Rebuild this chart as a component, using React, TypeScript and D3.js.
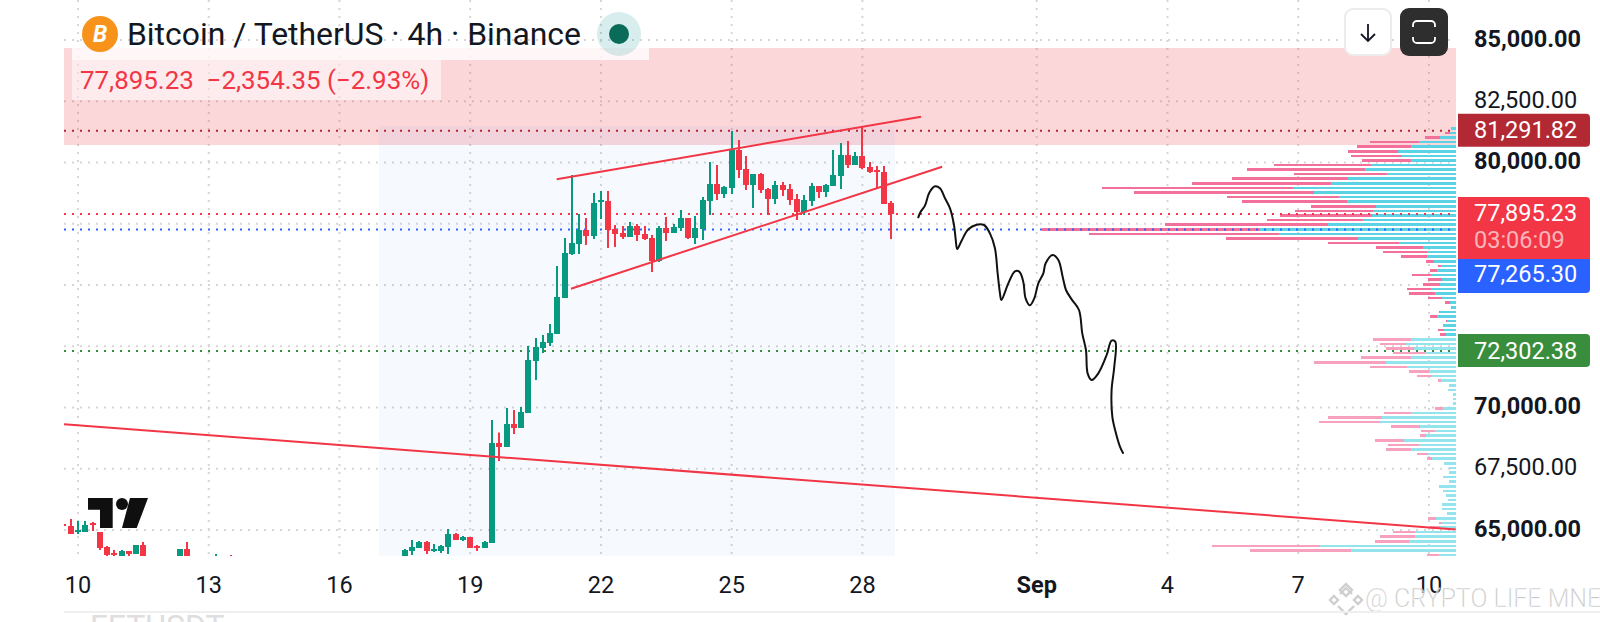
import React from "react";
import * as d3 from "d3";

const W = 1600;
const H = 622;
const paneLeft = 64;
const paneRight = 1456;
const paneBottom = 556;

const barIndex = [-2,-1,0,1,2,3,4,5,6,7,8,9,14,15,19,21,45,46,47,48,49,50,51,52,53,54,55,56,57,58,59,60,61,62,63,64,65,66,67,68,69,70,71,72,73,74,75,76,77,78,79,80,81,82,83,84,85,86,87,88,89,90,91,92,93,94,95,96,97,98,99,100,101,102,103,104,105,106,107,108,109,110,111,112];
const highs = [65246,65449,65368,65368,65327,64919,64347,64184,64184,64143,64388,64511,64225,64511,64021,63980,64225,64592,64551,64551,64429,64388,65041,64878,64756,64715,64388,64551,69490,68980,69980,69898,70021,72511,72837,72959,73408,75776,76919,79490,77898,77735,78756,78837,78837,77449,77409,77572,77490,77409,77041,77409,77776,77490,78062,77735,77817,78592,80021,79898,79041,81286,80919,80266,79531,79572,78960,79245,79205,79123,78715,78674,79164,79041,79123,80511,80796,80878,80429,81490,80021,79858,79858,78429];
const lows = [65176,64837,64837,64930,64960,64184,63939,63939,63858,63939,64021,63694,63776,63650,63600,63600,63858,63980,64266,64021,64103,64062,64021,64592,64551,64266,64143,64266,64470,67816,68388,68918,69164,69776,71122,72225,72511,73000,74470,76225,76266,76633,76878,77694,76511,76552,76878,76960,76796,76837,75531,75939,76796,77123,77205,76878,76674,76837,77858,78470,78552,78715,79368,78878,78143,78756,77858,78307,78633,78266,77653,77858,78225,78552,78592,79041,78919,79776,79898,79735,79572,78960,78307,76878];
const opens = [65246,65164,64930,64930,65274,64919,64307,64062,63939,64143,64021,64388,63776,64225,63650,63898,63858,64143,64266,64511,64143,64143,64307,64837,64592,64715,64347,64266,64470,68551,68388,69327,69164,69776,71898,72429,72633,73000,74470,76266,76674,77245,77000,78388,78429,77286,77123,76960,77409,77082,76919,75980,77327,77123,77327,77735,76919,77286,78429,79123,78715,78960,80511,79735,79082,79531,78919,78511,79082,78919,78511,77980,78429,79041,78796,79041,79449,80307,79898,80266,79817,79694,79613,78347];
const closes = [65176,64837,65001,65205,65192,64266,63980,63980,64143,64021,64388,63776,64225,63694,63898,63650,64184,64307,64511,64143,64225,64347,64837,64592,64715,64266,64266,64511,68551,68388,69327,69164,69816,71939,72470,72674,73041,74511,76307,76715,77245,77000,78347,78470,77245,77082,76960,77409,77041,76878,75980,77327,77123,77368,77735,76919,77327,78470,79123,78715,79000,80511,79694,79082,79531,78878,78511,79082,78878,78470,77980,78470,79041,78796,79082,79490,80307,79898,80266,79776,79613,79613,78307,77895.23];

const gridPrices = [85000,82500,80000,77500,75000,72500,70000,67500,65000];
const labelledPrices = [85000,82500,80000,70000,67500,65000];
const boldPrices = [85000,80000,70000,65000];
const timeTickBars = [0,18,36,54,72,90,108,132,150,168,186];
const timeTickLabels = ["10","13","16","19","22","25","28","Sep","4","7","10"];

const zoneTop = 84674;
const zoneBottom = 80715;
const rangeStartBar = 41.44;
const rangeEndBar = 112.5;
const rangeTop = 81490;

const resistanceLevel = 81291.82;
const lastPrice = 77895.23;
const bluePrice = 77265.3;
const supportLevel = 72302.38;

const upperChannelBars = [65.91, 116.07];
const upperChannelPrices = [79313, 81870];
const lowerChannelBars = [67.88, 118.98];
const lowerChannelPrices = [74850, 79825];
const longLineBars = [-2.2, 189.7];
const longLinePrices = [69327, 65021];

const sketchBars = [115.7,116.02,116.61,117.21,118.0,118.68,119.37,120.06,120.61,120.83,121.06,121.66,122.58,123.73,124.74,125.56,126.25,126.62,126.94,127.13,128.09,129.0,129.6,130.15,130.47,131.07,131.67,132.22,132.91,133.23,134.19,134.98,135.57,136.03,136.81,137.82,138.27,138.78,139.01,139.57,140.48,141.63,142.31,142.82,142.68,142.31,142.41,142.91,143.46,143.88];
const sketchPrices = [77762,77993,78238,78769,79027,78946,78538,78129,77449,76905,76470,76810,77272,77463,77449,77109,76497,75476,74660,74388,75068,75558,75544,75136,74456,74170,74456,75068,75476,75885,76225,76021,75340,74796,74415,73980,73027,72347,71395,71123,71395,72143,72728,72687,71667,70715,69626,68946,68402,68143];

const profileTopPrice = 81449;
const profileBinSize = 187.3;
const profileSell = [0,5,15,49,54,50,51,49,97,118,93,116,139,191,180,112,105,65,78,92,96,163,218,190,132,71,47,44,26,8,3,7,19,14,17,24,26,14,5,0,1,7,1,0,6,6,38,26,28,32,50,72,37,20,15,3,0,0,0,0,0,8,27,54,61,29,14,6,29,31,25,11,5,0,0,0,0,0,0,0,0,0,0,0,0,8,3,10,22,35,34,108,101,12];
const profileBuy = [5,6,16,37,45,58,54,45,85,91,69,108,125,163,142,117,109,80,83,84,93,128,196,177,98,57,33,29,29,22,15,19,25,14,16,25,21,14,6,5,16,19,9,13,12,10,45,50,42,31,45,70,49,27,24,15,7,8,3,3,3,13,45,74,76,36,21,30,52,37,45,28,24,12,7,7,13,7,17,13,10,8,14,14,9,20,14,16,41,41,47,136,105,17];
const strongProfileBelowPrice = 72900;

const GREEN = "#089981";
const RED = "#f23645";
const FONT = "Roboto, sans-serif";

const x = d3.scaleLinear().domain([0, 186]).range([78, 78 + 186 * 7.263]);
const y = d3.scaleLinear().domain([85000, 65000]).range([40, 530]);
const volume = d3.scaleLinear().domain([0, 414]).range([0, 414]);
const priceFormat = d3.format(",.2f");

function seg(bars: number[], prices: number[]) {
  return d3
    .line<number>()
    .x((b) => x(b))
    .y((_, i) => y(prices[i]))(bars) as string;
}

function sketchPath() {
  return d3
    .line<number>()
    .x((b) => x(b))
    .y((_, i) => y(sketchPrices[i]))
    .curve(d3.curveCatmullRom.alpha(0.5))(sketchBars) as string;
}

function Candles() {
  return (
    <g clipPath="url(#pane)">
      {barIndex.map((b, i) => {
        const up = closes[i] >= opens[i];
        const cx = Math.round(x(b));
        const top = Math.round(y(Math.max(opens[i], closes[i])));
        const bot = Math.round(y(Math.min(opens[i], closes[i])));
        const c = up ? GREEN : RED;
        return (
          <g key={b} fill={c}>
            <rect x={cx - 1} width={2} y={y(highs[i])} height={Math.max(1, y(lows[i]) - y(highs[i]))} />
            <rect x={cx - 3} width={6} y={top} height={Math.max(2, bot - top)} />
          </g>
        );
      })}
    </g>
  );
}

function Profile() {
  return (
    <g clipPath="url(#pane)">
      {profileSell.map((s, k) => {
        const p = profileTopPrice - k * profileBinSize;
        const next = profileTopPrice - (k + 1) * profileBinSize;
        const t = Math.round(y(p));
        const h = Math.max(2, Math.round(y(next)) - t - 2);
        const b = volume(profileBuy[k]);
        const w = volume(s);
        const strong = p > strongProfileBelowPrice;
        return (
          <g key={k}>
            <rect x={paneRight - b} y={t} width={b} height={h} fill={strong ? "#5bd3e4" : "#93e4ec"} />
            {s > 0 && <rect x={paneRight - b - w} y={t} width={w} height={h} fill={strong ? "#f3709a" : "#f8a1bf"} />}
          </g>
        );
      })}
    </g>
  );
}

function Badge({ price, fill, h = 33 }: { price: number; fill: string; h?: number }) {
  const cy = y(price) - 0.5;
  return (
    <g>
      <path
        d={`M1458 ${cy - h / 2}H1586a4 4 0 0 1 4 4V${cy + h / 2 - 4}a4 4 0 0 1 -4 4H1458Z`}
        fill={fill}
      />
      <text x={1474} y={cy + 8} fontSize={23.5} fill="#fff">
        {priceFormat(price)}
      </text>
    </g>
  );
}

export default function App() {
  const dotted = { strokeDasharray: "2 6", strokeWidth: 2, fill: "none" };
  return (
    <svg
      width={W}
      height={H}
      viewBox={`0 0 ${W} ${H}`}
      style={{ position: "absolute", left: 0, top: 0, display: "block", background: "#fff", fontFamily: FONT }}
    >
      <defs>
        <clipPath id="pane">
          <rect x={paneLeft} y={0} width={paneRight - paneLeft} height={paneBottom} />
        </clipPath>
      </defs>

      {/* grid */}
      <g stroke="#d6d6d6" {...dotted}>
        {gridPrices.map((p) => (
          <line key={p} x1={paneLeft} x2={paneRight} y1={y(p)} y2={y(p)} />
        ))}
        {timeTickBars.map((b) => (
          <line key={b} x1={x(b)} x2={x(b)} y1={0} y2={paneBottom} />
        ))}
      </g>

      {/* zones */}
      <rect x={paneLeft} width={paneRight - paneLeft} y={y(zoneTop)} height={y(zoneBottom) - y(zoneTop)} fill="#f23645" fillOpacity={0.2} />
      <rect x={x(rangeStartBar)} width={x(rangeEndBar) - x(rangeStartBar)} y={y(rangeTop)} height={paneBottom - y(rangeTop)} fill="#1e88ff" fillOpacity={0.04} />

      <Profile />

      {/* price lines */}
      <g {...dotted}>
        <line x1={paneLeft} x2={paneRight} y1={y(resistanceLevel)} y2={y(resistanceLevel)} stroke="#b22833" />
        <line x1={paneLeft} x2={paneRight} y1={y(lastPrice)} y2={y(lastPrice)} stroke={RED} />
        <line x1={paneLeft} x2={paneRight} y1={y(bluePrice)} y2={y(bluePrice)} stroke="#2962ff" />
        <line x1={paneLeft} x2={paneRight} y1={y(supportLevel)} y2={y(supportLevel)} stroke="#388e3c" />
      </g>

      {/* TradingView mark */}
      <g fill="#0f0f0f">
        <path d="M88 498H112.7V528H100V509.7H88Z" />
        <circle cx={122} cy={504} r={6} />
        <path d="M130 498H148L136.7 528H122Z" />
      </g>

      <Candles />

      {/* drawings */}
      <g clipPath="url(#pane)" fill="none" stroke="#f23645" strokeWidth={2}>
        <path d={seg(upperChannelBars, upperChannelPrices)} />
        <path d={seg(lowerChannelBars, lowerChannelPrices)} />
        <path d={seg(longLineBars, longLinePrices)} />
      </g>
      <path d={sketchPath()} fill="none" stroke="#111" strokeWidth={2} strokeLinejoin="round" strokeLinecap="round" />

      {/* legend */}
      <rect x={72} y={44} width={577} height={16} fill="#fff" fillOpacity={0.78} />
      <rect x={72} y={60} width={369} height={40} fill="#fff" fillOpacity={0.5} />
      <circle cx={100} cy={34} r={18} fill="#f7931a" />
      <text x={100} y={42} fontSize={23} fontWeight={700} fontStyle="italic" fill="#fff" textAnchor="middle">B</text>
      <text x={127} y={44.5} fontSize={31.9} fill="#131722">Bitcoin / TetherUS · 4h · Binance</text>
      <text x={80} y={89} fontSize={25.9} fill={RED} xmlSpace="preserve">77,895.23  −2,354.35 (−2.93%)</text>
      <circle cx={619} cy={34} r={22} fill="#0b8f8f" fillOpacity={0.16} />
      <circle cx={619} cy={34} r={10} fill="#0a6b58" />

      {/* buttons */}
      <rect x={1345} y={9} width={46} height={46} rx={8} fill="#fff" stroke="#ececec" strokeWidth={2} />
      <path d="M1368 24V41M1361 34L1368 41L1375 34" fill="none" stroke="#131722" strokeWidth={1.8} />
      <rect x={1400} y={8} width={48} height={48} rx={9} fill="#2e2e2e" />
      <path d="M1413 27V25a4 4 0 0 1 4 -4H1431a4 4 0 0 1 4 4V27M1413 37V39a4 4 0 0 0 4 4H1431a4 4 0 0 0 4 -4V37" fill="none" stroke="#fff" strokeWidth={1.8} />

      {/* price axis */}
      {labelledPrices.map((p) => (
        <text
          key={p}
          x={1474}
          y={y(p) + 6.5}
          fontSize={23.5}
          fontWeight={boldPrices.includes(p) ? 700 : 400}
          fill="#131722"
        >
          {priceFormat(p)}
        </text>
      ))}
      <Badge price={resistanceLevel} fill="#b22833" />
      <Badge price={supportLevel} fill="#388e3c" />
      <path d="M1458 197H1586a4 4 0 0 1 4 4V259H1458Z" fill={RED} />
      <text x={1474} y={221} fontSize={23.5} fill="#fff">{priceFormat(lastPrice)}</text>
      <text x={1474} y={247.5} fontSize={23.5} fill="#fff" fillOpacity={0.65}>03:06:09</text>
      <path d="M1458 259H1590V289a4 4 0 0 1 -4 4H1458Z" fill="#2962ff" />
      <text x={1474} y={282} fontSize={23.5} fill="#fff">{priceFormat(bluePrice)}</text>

      {/* time axis */}
      {timeTickBars.map((b, i) => (
        <text
          key={b}
          x={x(b)}
          y={593}
          fontSize={23.5}
          textAnchor="middle"
          fontWeight={timeTickLabels[i] === "Sep" ? 700 : 400}
          fill="#131722"
        >
          {timeTickLabels[i]}
        </text>
      ))}

      {/* watermark */}
      <g fill="none" stroke="#cfcfcf" strokeWidth={2.4}>
        <path d="M1346 584l6 6-6 6-6-6Z M1334 596l4 4-4 4-4-4Z M1358 596l4 4-4 4-4-4Z M1338 606l8 8 8-8" />
        <path d="M1340 594l6-6 6 6" />
      </g>
      <text x={1365} y={607} fontSize={25} fontWeight={300} fill="#bdbdbd" fillOpacity={0.85} stroke="#fff" strokeWidth={0.3}>@ CRYPTO LIFE MNE</text>

      {/* footer */}
      <rect x={64} y={611} width={W - 64} height={2} fill="#efefef" />
      <text x={90} y={637} fontSize={32} fill="#dedede">FETUSDT</text>
    </svg>
  );
}
